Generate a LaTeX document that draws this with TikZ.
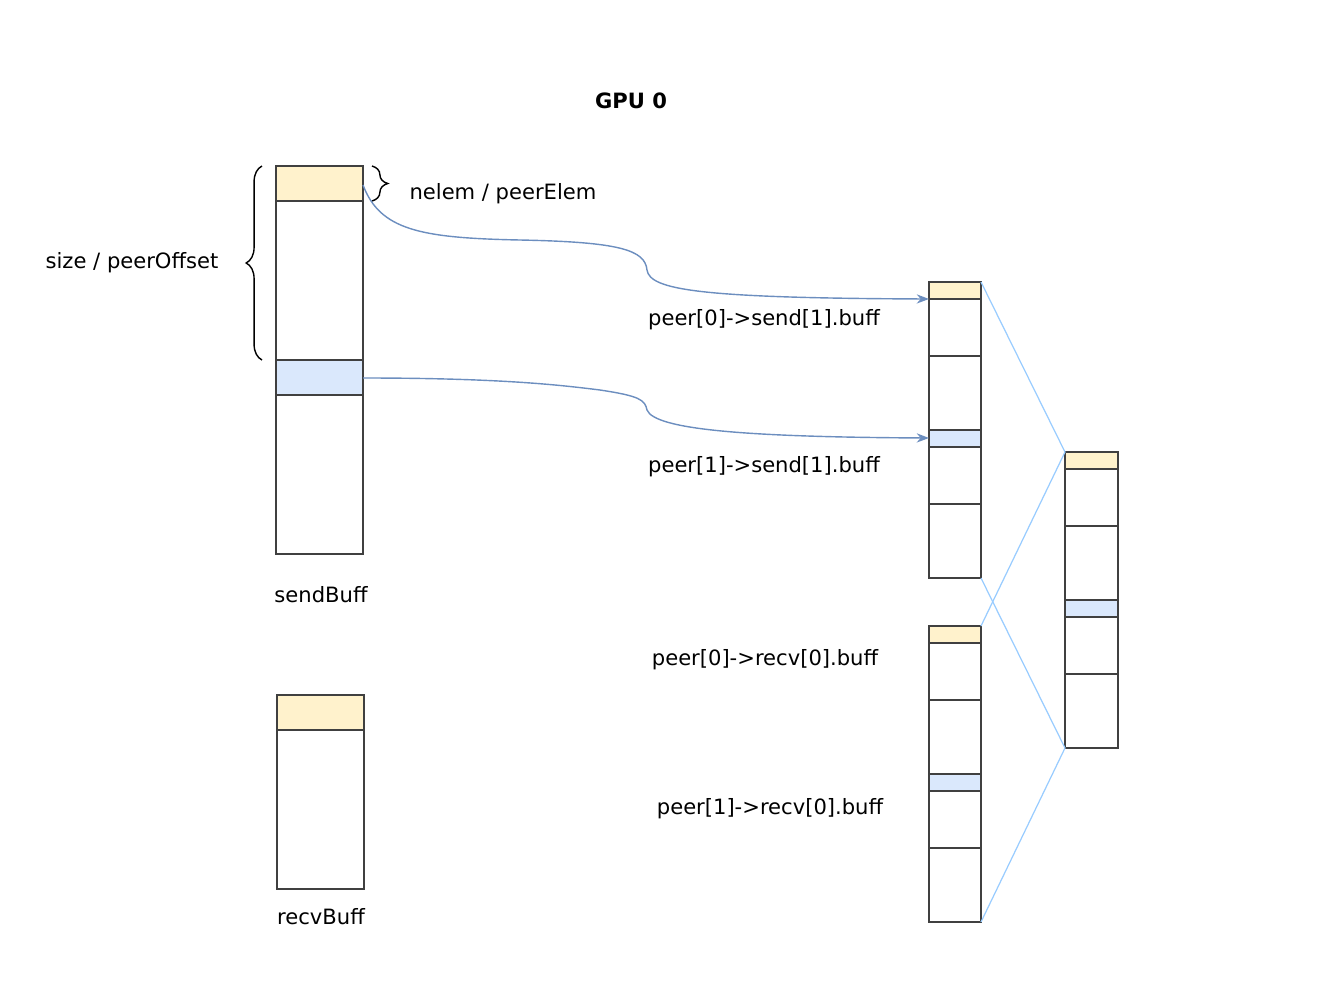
\documentclass[tikz,border=0pt]{standalone}
\usepackage{fontspec}
\setmainfont{DejaVu Sans}
\usetikzlibrary{decorations.pathreplacing,arrows.meta}
\definecolor{yelf}{HTML}{FFF2CC}
\definecolor{bluf}{HTML}{DAE8FC}
\definecolor{connc}{HTML}{6C8EBF}
\definecolor{fanc}{HTML}{99CCFF}
\begin{document}
\begin{tikzpicture}[x=0.02cm,y=-0.02cm,
  cell/.style={draw=black!75,line width=0.9pt},
  yel/.style={cell,fill=yelf},
  blu/.style={cell,fill=bluf},
  lbl/.style={font=\fontsize{12}{14}\selectfont,inner sep=0},
  conn/.style={draw=connc,line width=0.8pt,-{Stealth[length=7pt]}},
  fan/.style={draw=fanc,line width=0.7pt}]
\useasboundingbox (0,0) rectangle (1320,991);
\node[inner sep=0,font=\fontsize{12}{14}\selectfont\bfseries] (title) at (631,101) {GPU 0};
% sendBuff
\draw[cell] (276,166) rectangle (363,554);
\draw[yel] (276,166) rectangle (363,201);
\draw[blu] (276,360) rectangle (363,395);
\coordinate (s0) at (363,185);
\coordinate (s1) at (363,378);
\node[lbl] (sendlbl) at (321,595) {sendBuff};
% recvBuff
\draw[cell] (277,695) rectangle (364,889);
\draw[yel] (277,695) rectangle (364,730);
\node[lbl] (recvlbl) at (321,917) {recvBuff};
% braces
\draw[decorate,decoration={brace,amplitude=9pt},line width=0.8pt] (262,360) -- (262,166);
\draw[decorate,decoration={brace,amplitude=9pt},line width=0.8pt] (372,166) -- (372,201);
\node[lbl] (size) at (132,263) {size / peerOffset};
\node[lbl] (nelem) at (503,194) {nelem / peerElem};
% column A
\draw[cell] (929,282) rectangle (981,578);
\draw[yel] (929,282) rectangle (981,299);
\draw[cell] (929,356) -- (981,356);
\draw[blu] (929,430) rectangle (981,447);
\draw[cell] (929,504) -- (981,504);
% column B
\draw[cell] (929,626) rectangle (981,922);
\draw[yel] (929,626) rectangle (981,643);
\draw[cell] (929,700) -- (981,700);
\draw[blu] (929,774) rectangle (981,791);
\draw[cell] (929,848) -- (981,848);
% column C
\draw[cell] (1065,452) rectangle (1118,748);
\draw[yel] (1065,452) rectangle (1118,469);
\draw[cell] (1065,526) -- (1118,526);
\draw[blu] (1065,600) rectangle (1118,617);
\draw[cell] (1065,674) -- (1118,674);
\coordinate (a0) at (929,299);
\coordinate (a1) at (929,438);
% fan lines
\draw[fan] (981,282) -- (1065,452) -- (981,626);
\draw[fan] (981,578) -- (1065,748) -- (981,922);
% connectors
\draw[conn] (s0) .. controls (380,230) and (420,238) .. (520,240) .. controls (620,242) and (645,250) .. (647,270) .. controls (650,290) and (700,298) .. (a0);
\draw[conn] (s1) .. controls (500,378) and (560,385) .. (600,390) .. controls (640,396) and (645,400) .. (647,410) .. controls (655,430) and (750,437) .. (a1);
\node[lbl] at (764,320) {peer[0]->send[1].buff};
\node[lbl] at (764,467) {peer[1]->send[1].buff};
\node[lbl] at (765,660) {peer[0]->recv[0].buff};
\node[lbl] at (770,809) {peer[1]->recv[0].buff};
\end{tikzpicture}
\end{document}
